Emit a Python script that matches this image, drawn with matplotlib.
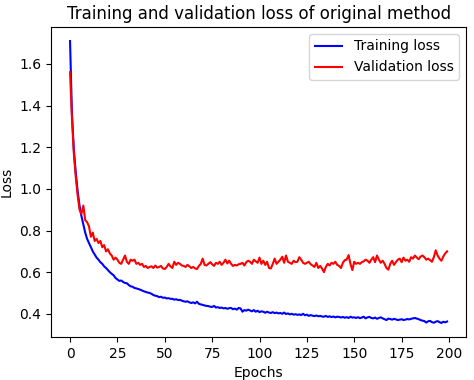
import matplotlib
matplotlib.use("Agg")
import matplotlib.pyplot as plt

# loss per epoch
train_loss = [
    1.71, 1.36, 1.19, 1.08, 0.99, 0.92, 0.87, 0.83, 0.79, 0.76,
    0.74, 0.72, 0.70, 0.685, 0.67, 0.66, 0.648, 0.64, 0.628, 0.62,
    0.61, 0.60, 0.592, 0.585, 0.572, 0.565, 0.558, 0.56, 0.553, 0.548,
    0.547, 0.538, 0.532, 0.53, 0.524, 0.522, 0.519, 0.516, 0.512, 0.508,
    0.505, 0.502, 0.50, 0.496, 0.49, 0.487, 0.485, 0.48, 0.482, 0.477,
    0.478, 0.474, 0.475, 0.472, 0.472, 0.468, 0.47, 0.466, 0.467, 0.463,
    0.46, 0.458, 0.46, 0.455, 0.452, 0.455, 0.45, 0.458, 0.448, 0.445,
    0.443, 0.44, 0.438, 0.437, 0.434, 0.433, 0.438, 0.43, 0.432, 0.428,
    0.43, 0.426, 0.428, 0.424, 0.427, 0.428, 0.422, 0.425, 0.42, 0.428,
    0.426, 0.41, 0.418, 0.415, 0.42, 0.416, 0.412, 0.418, 0.41, 0.415,
    0.408, 0.412, 0.41, 0.405, 0.41, 0.406, 0.404, 0.408, 0.403, 0.406,
    0.402, 0.404, 0.40, 0.406, 0.399, 0.402, 0.397, 0.40, 0.396, 0.398,
    0.395, 0.397, 0.394, 0.40, 0.393, 0.396, 0.39, 0.394, 0.391, 0.389,
    0.392, 0.388, 0.39, 0.387, 0.386, 0.39, 0.385, 0.388, 0.384, 0.387,
    0.383, 0.386, 0.385, 0.382, 0.385, 0.381, 0.384, 0.38, 0.386, 0.382,
    0.383, 0.38, 0.384, 0.379, 0.382, 0.386, 0.378, 0.383, 0.385, 0.38,
    0.378, 0.382, 0.376, 0.38, 0.383, 0.378, 0.374, 0.37, 0.377, 0.375,
    0.372, 0.376, 0.373, 0.37, 0.372, 0.374, 0.37, 0.372, 0.375, 0.373,
    0.376, 0.378, 0.38, 0.377, 0.374, 0.37, 0.367, 0.365, 0.358, 0.364,
    0.366, 0.36, 0.357, 0.362, 0.365, 0.36, 0.356, 0.362, 0.359, 0.363,
]
val_loss = [
    1.56, 1.34, 1.17, 1.06, 0.97, 0.90, 0.88, 0.92, 0.85, 0.84,
    0.82, 0.77, 0.79, 0.75, 0.76, 0.74, 0.75, 0.72, 0.73, 0.70,
    0.71, 0.69, 0.68, 0.66, 0.67, 0.66, 0.645, 0.64, 0.66, 0.68,
    0.65, 0.64, 0.66, 0.655, 0.66, 0.64, 0.645, 0.635, 0.64, 0.625,
    0.63, 0.62, 0.625, 0.628, 0.62, 0.632, 0.622, 0.625, 0.63, 0.618,
    0.615, 0.625, 0.64, 0.628, 0.62, 0.65, 0.635, 0.645, 0.64, 0.632,
    0.63, 0.625, 0.635, 0.628, 0.62, 0.625, 0.618, 0.615, 0.63, 0.64,
    0.665, 0.635, 0.632, 0.64, 0.648, 0.638, 0.63, 0.645, 0.64, 0.65,
    0.635, 0.645, 0.66, 0.642, 0.655, 0.64, 0.63, 0.635, 0.632, 0.638,
    0.64, 0.645, 0.632, 0.648, 0.655, 0.65, 0.64, 0.66, 0.652, 0.645,
    0.67, 0.64, 0.655, 0.635, 0.65, 0.62, 0.618, 0.64, 0.665, 0.64,
    0.65, 0.66, 0.674, 0.645, 0.68, 0.65, 0.645, 0.64, 0.655, 0.648,
    0.65, 0.672, 0.66, 0.645, 0.64, 0.645, 0.65, 0.638, 0.632, 0.625,
    0.645, 0.62, 0.63, 0.618, 0.60, 0.625, 0.64, 0.632, 0.645, 0.64,
    0.65, 0.635, 0.63, 0.62, 0.645, 0.658, 0.66, 0.682, 0.64, 0.61,
    0.65, 0.64, 0.645, 0.64, 0.648, 0.652, 0.66, 0.655, 0.645, 0.66,
    0.672, 0.648, 0.68, 0.66, 0.645, 0.655, 0.64, 0.62, 0.612, 0.64,
    0.655, 0.635, 0.648, 0.66, 0.665, 0.648, 0.67, 0.655, 0.66, 0.65,
    0.672, 0.665, 0.68, 0.67, 0.662, 0.675, 0.68, 0.672, 0.66, 0.665,
    0.658, 0.65, 0.672, 0.705, 0.68, 0.665, 0.655, 0.675, 0.69, 0.70,
]
epochs = list(range(len(train_loss)))

fig = plt.figure(figsize=(4.74, 3.8), dpi=100)
plt.subplots_adjust(left=0.108, right=0.983, top=0.929, bottom=0.113)
plt.plot(epochs, train_loss, "b", label="Training loss")
plt.plot(epochs, val_loss, "r", label="Validation loss")
plt.title("Training and validation loss of original method")
plt.xlabel("Epochs")
plt.ylabel("Loss")
plt.legend()
plt.savefig("out.png", dpi=100)
